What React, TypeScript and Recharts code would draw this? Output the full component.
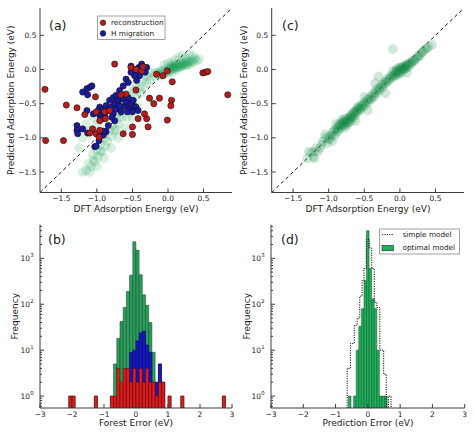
import React from 'react';
import {
  ScatterChart,
  Scatter,
  ComposedChart,
  Bar,
  Line,
  XAxis,
  YAxis,
  ReferenceLine,
} from 'recharts';

const FONT = '"DejaVu Sans", Verdana, sans-serif';
const INK = '#1a1a1a';
const FRAME = '#3c3c3c';

// ---------- (a) random-forest parity plot ----------
const forestCloud: number[][] = [
  [-0.2, -0.1], [-0.15, -0.06], [-0.12, -0.1], [-0.1, -0.03], [-0.07, -0.07], [-0.05, 0.0],
  [-0.02, -0.04], [0.0, 0.02], [0.02, -0.02], [0.04, 0.04], [0.06, 0.0], [0.08, 0.05],
  [0.1, 0.02], [0.12, 0.06], [0.14, 0.03], [0.16, 0.07], [0.18, 0.04], [0.2, 0.08],
  [0.22, 0.05], [0.24, 0.09], [0.26, 0.06], [0.28, 0.1], [0.3, 0.07], [0.33, 0.11],
  [0.36, 0.1], [0.4, 0.13], [0.44, 0.15], [0.1, 0.14], [0.15, 0.18], [0.2, 0.2],
  [0.25, 0.17], [0.3, 0.22], [0.35, 0.2], [0.05, 0.1], [0.0, 0.09], [-0.05, 0.07],
  [-0.08, -0.02], [0.03, 0.01], [0.09, 0.03], [0.15, 0.04], [0.21, 0.07], [0.27, 0.08],
  [-0.13, -0.04], [0.0, -0.06], [0.06, -0.04], [0.12, -0.01], [-0.25, -0.15], [-0.3, -0.2],
  [-0.3, -0.1], [-0.35, -0.25], [-0.38, -0.35], [-0.4, -0.28], [-0.45, -0.4], [-0.48, -0.32],
  [-0.5, -0.48], [-0.55, -0.55], [-0.55, -0.45], [-0.6, -0.6], [-0.62, -0.5], [-0.65, -0.7],
  [-0.68, -0.62], [-0.7, -0.8], [-0.72, -0.72], [-0.75, -0.9], [-0.78, -0.82], [-0.8, -0.98],
  [-0.82, -0.9], [-0.85, -1.05], [-0.88, -1.12], [-0.9, -1.0], [-0.93, -1.2], [-0.95, -1.1],
  [-0.98, -1.28], [-1.0, -1.18], [-1.03, -1.35], [-1.06, -1.25], [-1.08, -1.42], [-1.12, -1.38],
  [-1.15, -1.48], [-1.2, -1.5], [-1.1, -1.5], [-1.0, -1.42], [-0.9, -1.3], [-0.8, -1.15],
  [-0.7, -1.0], [-0.6, -0.85], [-0.5, -0.7], [-0.42, -0.55], [-0.6, -0.4], [-0.7, -0.5],
  [-0.8, -0.6], [-0.9, -0.7], [-1.0, -0.8], [-1.1, -0.9], [-1.2, -1.0], [-1.25, -1.15],
  [-0.5, -0.3], [-0.45, -0.2], [-0.65, -0.3], [-0.75, -0.45], [-0.85, -0.5], [-0.95, -0.6],
  [-1.05, -0.7], [-1.15, -0.8], [-0.18, -0.04], [-0.1, -0.08], [-0.04, -0.03], [0.01, 0.0],
  [0.05, 0.05], [0.09, 0.07], [0.13, 0.04], [0.17, 0.09], [0.22, 0.1], [0.26, 0.12],
  [0.3, 0.12], [0.34, 0.14], [0.38, 0.16], [0.07, 0.02], [0.19, 0.06], [-0.35, -0.15],
  [-0.25, -0.05], [-0.58, -0.7], [-0.73, -0.88], [-0.95, -1.2], [-1.05, -1.32],
];

const reconstructionPts: number[][] = [
  [-1.73, -0.29], [-1.72, -1.04], [-1.47, -1.04], [-1.43, -0.52], [-1.28, -0.56], [-1.17, -0.66],
  [-1.02, -0.4], [-1.01, -0.62], [-1.06, -0.87], [-1.01, -0.94], [-0.97, -0.99], [-1.1, -0.93],
  [-0.96, -0.89], [-0.88, -0.72], [-0.75, 0.08], [-0.89, -0.62], [-0.59, -0.36], [-0.63, -0.94],
  [-0.5, -0.84], [-0.5, -0.95], [-0.52, 0.03], [-0.45, 0.0], [-0.37, -0.02], [-0.35, 0.04],
  [-0.45, -0.3], [-0.42, -0.72], [-0.3, -0.72], [-0.28, -0.84], [-0.26, -0.42], [-0.2, -0.5],
  [-0.12, -0.42], [-0.16, -0.07], [-0.07, -0.09], [-0.01, -0.02], [0.06, -0.18], [0.05, -0.45],
  [0.04, -0.53], [-0.01, -0.74], [0.49, -0.05], [0.53, -0.04], [0.56, -0.03], [0.84, -0.37],
  [-0.82, -0.6], [-0.66, -0.37], [-0.33, -0.65], [-0.96, -0.75],
];

const hMigrationPts: number[][] = [
  [-1.2, -0.33], [-1.14, -0.28], [-1.1, -0.26], [-1.07, -0.24], [-1.13, -0.37], [-1.14, -0.6],
  [-1.28, -0.82], [-1.28, -0.89], [-1.27, -0.94], [-1.2, -0.87], [-1.13, -0.93], [-0.97, -1.04],
  [-1.03, -1.13], [-1.01, -1.12], [-0.96, -0.98], [-0.91, -0.96], [-0.87, -0.91], [-0.96, -0.55],
  [-0.94, -0.64], [-0.89, -0.67], [-0.91, -0.58], [-0.87, -0.53], [-0.84, -0.6], [-0.82, -0.45],
  [-0.8, -0.55], [-0.77, -0.65], [-0.75, -0.5], [-0.73, -0.58], [-0.7, -0.45], [-0.68, -0.53],
  [-0.66, -0.62], [-0.63, -0.43], [-0.61, -0.54], [-0.59, -0.48], [-0.56, -0.41], [-0.54, -0.55],
  [-0.52, -0.5], [-0.49, -0.45], [-0.47, -0.54], [-0.45, -0.55], [-0.96, -0.67], [-0.98, -0.6],
  [-0.77, -0.41], [-0.73, -0.38], [-0.68, -0.31], [-0.63, -0.24], [-0.59, -0.14], [-0.56, -0.19],
  [-0.52, 0.05], [-0.48, 0.0], [-0.45, -0.04], [-0.41, 0.03], [-0.37, 0.08], [-0.35, 0.0],
  [-0.32, -0.04], [-0.3, 0.03], [-0.4, -0.09], [-0.47, -0.09], [-0.52, -0.04], [-0.44, -0.16],
  [-0.84, -0.82], [-0.91, -0.9], [-0.75, -0.75], [-1.05, -0.65], [-0.92, -0.72], [-0.57, -0.62],
  [-0.5, -0.62], [-0.42, -0.6], [-0.79, -0.7],
];

// ---------- (c) optimal-model parity plot ----------
const optimalCloud: number[][] = [
  [-1.3, -1.3], [-1.25, -1.22], [-1.22, -1.28], [-1.18, -1.15], [-1.15, -1.2], [-1.1, -1.1],
  [-1.05, -1.0], [-1.02, -1.08], [-1.0, -0.98], [-0.98, -1.02], [-0.95, -0.92], [-0.92, -0.97],
  [-0.9, -0.88], [-0.88, -0.85], [-0.86, -0.9], [-0.85, -0.8], [-0.83, -0.86], [-0.82, -0.78],
  [-0.8, -0.82], [-0.78, -0.76], [-0.77, -0.8], [-0.75, -0.72], [-0.74, -0.78], [-0.72, -0.7],
  [-0.7, -0.74], [-0.69, -0.66], [-0.67, -0.7], [-0.65, -0.63], [-0.63, -0.67], [-0.62, -0.6],
  [-0.6, -0.62], [-0.58, -0.56], [-0.56, -0.6], [-0.55, -0.52], [-0.52, -0.55], [-0.5, -0.48],
  [-0.48, -0.52], [-0.46, -0.44], [-0.44, -0.48], [-0.42, -0.4], [-0.4, -0.44], [-0.38, -0.36],
  [-0.36, -0.4], [-0.34, -0.3], [-0.32, -0.35], [-0.3, -0.27], [-0.28, -0.3], [-0.26, -0.22],
  [-0.24, -0.26], [-0.22, -0.18], [-0.2, -0.2], [-0.18, -0.14], [-0.16, -0.17], [-0.14, -0.1],
  [-0.12, -0.13], [-0.1, -0.07], [-0.08, -0.1], [-0.06, -0.03], [-0.04, -0.06], [-0.02, 0.0],
  [0.0, -0.03], [0.02, 0.02], [0.04, 0.0], [0.06, 0.05], [0.08, 0.02], [0.1, 0.08],
  [0.12, 0.05], [0.14, 0.1], [0.16, 0.08], [0.18, 0.13], [0.2, 0.12], [0.22, 0.16],
  [0.25, 0.18], [0.28, 0.2], [0.3, 0.24], [0.33, 0.27], [0.36, 0.3], [0.4, 0.33],
  [0.45, 0.36], [-0.05, -0.02], [0.0, 0.03], [0.05, 0.0], [0.03, -0.05], [-0.02, -0.08],
  [0.08, 0.06], [-0.1, -0.02], [-0.78, -0.72], [-0.72, -0.78], [-0.8, -0.76], [-0.7, -0.7],
  [-0.65, -0.7], [-0.75, -0.82], [-0.6, -0.55], [-0.55, -0.58], [-0.1, 0.3], [-0.3, -0.1],
  [-0.2, -0.35], [-0.5, -0.4], [-0.45, -0.6], [-0.9, -0.8], [-1.05, -0.95], [-0.35, -0.2],
  [0.1, -0.05], [-0.62, -0.75], [-0.95, -1.05], [-1.2, -1.3], [-1.28, -1.2],
  [-1.2, -1.2], [-1.12, -1.15], [-1.08, -1.05], [-1.0, -1.02], [-0.96, -0.96], [-0.93, -0.9],
  [-0.9, -0.93], [-0.87, -0.87], [-0.84, -0.83], [-0.81, -0.8], [-0.79, -0.79], [-0.76, -0.77],
  [-0.73, -0.74], [-0.71, -0.72], [-0.68, -0.68], [-0.66, -0.65], [-0.64, -0.62], [-0.61, -0.63],
  [-0.59, -0.58], [-0.57, -0.57], [-0.54, -0.53], [-0.51, -0.51], [-0.47, -0.47], [-0.43, -0.43],
  [-0.39, -0.4], [-0.35, -0.34], [-0.31, -0.31], [-0.27, -0.26], [-0.23, -0.22], [-0.19, -0.18],
  [-0.15, -0.14], [-0.11, -0.1], [-0.07, -0.06], [-0.03, -0.02], [0.01, 0.0], [0.05, 0.03],
  [0.09, 0.06], [0.13, 0.08], [0.17, 0.11], [0.21, 0.14], [0.26, 0.2], [0.31, 0.25],
  [0.38, 0.31], [-0.01, -0.04], [0.03, 0.04], [0.07, 0.01], [-0.06, -0.09], [0.11, 0.03],
  [-0.04, 0.02], [-0.82, -0.74], [-0.77, -0.85], [-0.68, -0.76], [-0.86, -0.82],
];

// ---------- (b) forest error histograms ----------
const forestBinCenters = [
  -2.05, -1.95, -1.25, -0.75, -0.65, -0.55, -0.45, -0.35, -0.25, -0.15, -0.05, 0.05,
  0.15, 0.25, 0.35, 0.45, 0.55, 0.65, 0.75, 0.85, 1.05, 1.45, 2.75,
];
const allCounts = [1, 1, 1, 1, 5, 18, 42, 85, 190, 430, 2300, 1500, 440, 160, 95, 40, 9, 2, 5, 2, 1, 1, 1];
const hMigrationCounts: (number | null)[] = [
  null, null, null, null, null, null, null, null, 3, 9, 10, 16, 24, 26, 13, 9, 2, 2, 5, 2, null, null, null,
];
const reconstructionCounts = [1, 1, 1, 1, 1, 4, 2, 4, 4, 2, 4, 2, 4, 2, 4, 2, 2, 1, 2, 2, 1, 1, 1];

// ---------- (d) prediction error histograms ----------
const optimalBinCenters = [-0.56, -0.4, -0.32, -0.24, -0.16, -0.08, 0, 0.08, 0.16, 0.24, 0.32, 0.4, 0.48, 0.56];
const optimalCounts = [1, 1, 10, 33, 80, 330, 4000, 600, 130, 80, 10, 1, 1, 1];
const simpleBinEdges = [-0.64, -0.54, -0.42, -0.33, -0.25, -0.18, -0.12, -0.05, 0.04, 0.12, 0.2, 0.28, 0.37, 0.49, 0.57, 0.64, 0.72];
const simpleCounts = [4, 14, 35, 50, 150, 330, 600, 2600, 1700, 600, 110, 85, 10, 3, 0, 1];

// ---------- axes ----------
const ENERGY_DOMAIN: [number, number] = [-1.8, 0.9];
const energyTicks = [-1.5, -1.0, -0.5, 0.0, 0.5];
const ERROR_DOMAIN: [number, number] = [-3, 3];
const errorTicks = [-3, -2, -1, 0, 1, 2, 3];
const FREQ_DOMAIN: [number, number] = [0.55, 5400];
const freqTicks = [
  0.6, 0.7, 0.8, 0.9, 1, 2, 3, 4, 5, 6, 7, 8, 9, 10, 20, 30, 40, 50, 60, 70, 80, 90, 100,
  200, 300, 400, 500, 600, 700, 800, 900, 1000, 2000, 3000, 4000, 5000,
];

const signed = (v: number, digits: number) => (v < -1e-9 ? '\u2212' : '') + Math.abs(v).toFixed(digits);
const fmtEnergy = (v: number) => signed(v, 1);
const fmtError = (v: number) => signed(v, 0);
const blank = () => '';
const tickText = { fontSize: 7.5, fill: INK, fontFamily: FONT };
const lineStyle = { stroke: FRAME, strokeWidth: 1 };
const parityLine = [
  { x: ENERGY_DOMAIN[0], y: ENERGY_DOMAIN[0] },
  { x: ENERGY_DOMAIN[1], y: ENERGY_DOMAIN[1] },
];

const forestGreen = (p: any) => <circle cx={p.cx} cy={p.cy} r={4.8} fill="#17a052" fillOpacity={0.17} />;
const optimalGreen = (p: any) => <circle cx={p.cx} cy={p.cy} r={4.8} fill="#138a45" fillOpacity={0.2} />;
const redDot = (p: any) => <circle cx={p.cx} cy={p.cy} r={3.1} fill="#b81d1d" stroke="#111" strokeWidth={0.6} />;
const blueDot = (p: any) => <circle cx={p.cx} cy={p.cy} r={3.1} fill="#1b1ba0" stroke="#111" strokeWidth={0.6} />;

// log frequency ticks: majors get a label and a 4px inward mark, minors a 2px mark
const isMajor = (v: number) => Math.abs(Math.log10(v) - Math.round(Math.log10(v))) < 1e-6;
const LEFT_GAP = 6.5;
const LeftFreqTick = (p: any) => {
  const v = p.payload.value;
  const major = isMajor(v);
  const edge = p.x + LEFT_GAP;
  return (
    <g>
      <line x1={edge} x2={edge + (major ? 4 : 2)} y1={p.y} y2={p.y} stroke={FRAME} strokeWidth={1} />
      {major && (
        <text x={p.x} y={p.y} textAnchor="end" dominantBaseline="central" fontSize={7.5} fontFamily={FONT} fill={INK}>
          10
          <tspan dy={-3.5} fontSize={5.3}>
            {Math.round(Math.log10(v))}
          </tspan>
        </text>
      )}
    </g>
  );
};
const RightFreqTick = (p: any) => {
  const major = isMajor(p.payload.value);
  return <line x1={p.x} x2={p.x - (major ? 4 : 2)} y1={p.y} y2={p.y} stroke={FRAME} strokeWidth={1} />;
};

const toXY = (pts: number[][]) => pts.map(([x, y]) => ({ x, y }));
const forestCloudData = toXY(forestCloud);
const optimalCloudData = toXY(optimalCloud);
const reconstructionData = toXY(reconstructionPts);
const hMigrationData = toXY(hMigrationPts);

function ParityChart(props: {
  plotLeft: number;
  rightPad: number;
  cloudData: { x: number; y: number }[];
  cloudShape: (p: any) => React.ReactElement;
  withGroups: boolean;
}) {
  const { plotLeft, rightPad, cloudData, cloudShape, withGroups } = props;
  return (
    <ScatterChart width={237} height={219} margin={{ top: 8, right: rightPad, bottom: 0, left: 0 }} data={cloudData}>
      <XAxis
        xAxisId="b" type="number" dataKey="x" domain={ENERGY_DOMAIN} allowDataOverflow ticks={energyTicks}
        interval={0} tickFormatter={fmtEnergy} tickSize={-4} tickMargin={6.7} height={26.5}
        axisLine={lineStyle} tickLine={lineStyle} tick={tickText}
      />
      <XAxis
        xAxisId="t" orientation="top" type="number" dataKey="x" domain={ENERGY_DOMAIN} allowDataOverflow
        ticks={energyTicks} interval={0} tickFormatter={blank} tickSize={-4} height={0}
        axisLine={lineStyle} tickLine={lineStyle} tick={tickText}
      />
      <YAxis
        yAxisId="l" type="number" dataKey="y" domain={ENERGY_DOMAIN} allowDataOverflow ticks={energyTicks}
        interval={0} tickFormatter={fmtEnergy} tickSize={-4} tickMargin={7.5} width={plotLeft}
        axisLine={lineStyle} tickLine={lineStyle} tick={tickText}
      />
      <YAxis
        yAxisId="r" orientation="right" type="number" dataKey="y" domain={ENERGY_DOMAIN} allowDataOverflow
        ticks={energyTicks} interval={0} tickFormatter={blank} tickSize={-4} width={0}
        axisLine={lineStyle} tickLine={lineStyle} tick={tickText}
      />
      <Scatter xAxisId="b" yAxisId="l" data={cloudData} shape={cloudShape} isAnimationActive={false} />
      <ReferenceLine
        xAxisId="b" yAxisId="l" ifOverflow="visible" segment={parityLine}
        stroke="#111" strokeWidth={1} strokeDasharray="3.5 3"
      />
      {withGroups && (
        <Scatter xAxisId="b" yAxisId="l" data={hMigrationData} shape={blueDot} isAnimationActive={false} />
      )}
      {withGroups && (
        <Scatter xAxisId="b" yAxisId="l" data={reconstructionData} shape={redDot} isAnimationActive={false} />
      )}
    </ScatterChart>
  );
}

const forestTable = forestBinCenters.map((x, i) => ({
  x,
  all: allCounts[i],
  hmig: hMigrationCounts[i] ?? FREQ_DOMAIN[0],
  recon: reconstructionCounts[i],
}));
const optimalTable = optimalBinCenters.map((x, i) => ({ x, optimal: optimalCounts[i] }));
const simpleOutline = [
  { x: simpleBinEdges[0], y: FREQ_DOMAIN[0] },
  ...simpleCounts.map((c, i) => ({ x: simpleBinEdges[i], y: c > 0 ? c : FREQ_DOMAIN[0] })),
  { x: simpleBinEdges[simpleBinEdges.length - 1], y: FREQ_DOMAIN[0] },
];

// one hidden x axis per overlaid series, so bars overlap instead of sitting side by side
const seriesX = (id: string) => (
  <XAxis xAxisId={id} type="number" dataKey="x" domain={ERROR_DOMAIN} allowDataOverflow hide height={0} />
);

function HistChart(props: { plotLeft: number; rightPad: number; kind: 'forest' | 'optimal' }) {
  const { plotLeft, rightPad, kind } = props;
  const data = kind === 'forest' ? forestTable : optimalTable;
  return (
    <ComposedChart width={237} height={219} margin={{ top: 5.7, right: rightPad, bottom: 0, left: 0 }} data={data}>
      <XAxis
        xAxisId="xb" type="number" dataKey="x" domain={ERROR_DOMAIN} allowDataOverflow ticks={errorTicks} interval={0}
        tickFormatter={fmtError} tickSize={-4} tickMargin={7.5} height={30}
        axisLine={lineStyle} tickLine={lineStyle} tick={tickText}
      />
      <XAxis
        xAxisId="xt" orientation="top" type="number" dataKey="x" domain={ERROR_DOMAIN} allowDataOverflow ticks={errorTicks}
        interval={0} tickFormatter={blank} tickSize={-4} height={0} axisLine={lineStyle} tickLine={lineStyle} tick={tickText}
      />
      {seriesX('g')}
      {seriesX('bl')}
      {seriesX('r')}
      {seriesX('s')}
      <YAxis
        yAxisId="y" type="number" scale="log" domain={FREQ_DOMAIN} allowDataOverflow ticks={freqTicks} interval={0}
        tickSize={0} tickMargin={LEFT_GAP} width={plotLeft} axisLine={lineStyle} tickLine={false} tick={LeftFreqTick}
      />
      <YAxis
        yAxisId="yr" orientation="right" type="number" scale="log" domain={FREQ_DOMAIN} allowDataOverflow ticks={freqTicks}
        interval={0} tickSize={0} tickMargin={0} width={0} axisLine={lineStyle} tickLine={false} tick={RightFreqTick}
      />
      {kind === 'forest' && (
        <Bar xAxisId="g" yAxisId="y" dataKey="all" barSize={3.1} fill="#2aa05c" stroke="#0d3d20" strokeWidth={0.5} isAnimationActive={false} />
      )}
      {kind === 'forest' && (
        <Bar xAxisId="bl" yAxisId="y" dataKey="hmig" barSize={3.1} fill="#1717c8" stroke="#06064a" strokeWidth={0.5} isAnimationActive={false} />
      )}
      {kind === 'forest' && (
        <Bar xAxisId="r" yAxisId="y" dataKey="recon" barSize={3.1} fill="#dd1c1c" stroke="#5a0808" strokeWidth={0.5} isAnimationActive={false} />
      )}
      {kind === 'optimal' && (
        <Bar xAxisId="g" yAxisId="y" dataKey="optimal" barSize={2.5} fill="#1fb35e" stroke="#0a4a25" strokeWidth={0.5} isAnimationActive={false} />
      )}
      {kind === 'optimal' && (
        <Line xAxisId="s" yAxisId="y" data={simpleOutline} dataKey="y" type="stepAfter" stroke="#111" strokeWidth={1}
          strokeDasharray="1.2 1.2" dot={false} activeDot={false} isAnimationActive={false} />
      )}
    </ComposedChart>
  );
}

const labelFont = { fontFamily: FONT, fill: INK };

export default function App() {
  return (
    <div style={{ position: 'absolute', left: 0, top: 0, width: 474, height: 438, background: '#fff', overflow: 'hidden' }}>
      <div style={{ position: 'absolute', left: 0, top: 0 }}>
        <ParityChart plotLeft={40} rightPad={5} cloudData={forestCloudData} cloudShape={forestGreen} withGroups />
      </div>
      <div style={{ position: 'absolute', left: 237, top: 0 }}>
        <ParityChart plotLeft={34.7} rightPad={10} cloudData={optimalCloudData} cloudShape={optimalGreen} withGroups={false} />
      </div>
      <div style={{ position: 'absolute', left: 0, top: 219 }}>
        <HistChart plotLeft={40} rightPad={5} kind="forest" />
      </div>
      <div style={{ position: 'absolute', left: 237, top: 219 }}>
        <HistChart plotLeft={34} rightPad={9.3} kind="optimal" />
      </div>
      <svg width={474} height={438} style={{ position: 'absolute', left: 0, top: 0, pointerEvents: 'none' }}>
        {/* panel tags */}
        <text x={49} y={30} fontSize={12.5} {...labelFont}>(a)</text>
        <text x={282} y={29.5} fontSize={12.5} {...labelFont}>(c)</text>
        <text x={48} y={244} fontSize={12.5} {...labelFont}>(b)</text>
        <text x={281} y={244} fontSize={12.5} {...labelFont}>(d)</text>

        {/* axis titles */}
        <text x={136} y={211.5} fontSize={9} textAnchor="middle" {...labelFont}>DFT Adsorption Energy (eV)</text>
        <text x={368} y={211.5} fontSize={9} textAnchor="middle" {...labelFont}>DFT Adsorption Energy (eV)</text>
        <text transform="translate(13.9,100.3) rotate(-90)" fontSize={9} textAnchor="middle" {...labelFont}>Predicted Adsorption Energy (eV)</text>
        <text transform="translate(247,100.3) rotate(-90)" fontSize={9} textAnchor="middle" {...labelFont}>Predicted Adsorption Energy (eV)</text>
        <text x={136} y={426} fontSize={9} textAnchor="middle" {...labelFont}>Forest Error (eV)</text>
        <text x={368} y={426} fontSize={9} textAnchor="middle" {...labelFont}>Prediction Error (eV)</text>
        <text transform="translate(18.3,316.2) rotate(-90)" fontSize={9} textAnchor="middle" {...labelFont}>Frequency</text>
        <text transform="translate(250.3,316.2) rotate(-90)" fontSize={9} textAnchor="middle" {...labelFont}>Frequency</text>

        {/* legend (a) */}
        <rect x={97.5} y={16} width={67.5} height={23.5} fill="#fff" stroke="#8a8a8a" strokeWidth={0.8} />
        <circle cx={103} cy={22.7} r={2.8} fill="#b81d1d" stroke="#111" strokeWidth={0.5} />
        <circle cx={103} cy={33.4} r={2.8} fill="#1b1ba0" stroke="#111" strokeWidth={0.5} />
        <text x={111} y={25.4} fontSize={7.3} {...labelFont}>reconstruction</text>
        <text x={111} y={36} fontSize={7.3} {...labelFont}>H migration</text>

        {/* legend (d) */}
        <rect x={379.5} y={229} width={80} height={25} fill="#fff" stroke="#8a8a8a" strokeWidth={0.8} />
        <line x1={382} y1={234.6} x2={394} y2={234.6} stroke="#111" strokeWidth={1} strokeDasharray="1.2 1.2" />
        <rect x={382} y={245.3} width={11.5} height={5.5} fill="#1fb35e" stroke="#111" strokeWidth={0.5} />
        <text x={402.5} y={237.3} fontSize={7.3} {...labelFont}>simple model</text>
        <text x={402.5} y={250.3} fontSize={7.3} {...labelFont}>optimal model</text>
      </svg>
    </div>
  );
}
